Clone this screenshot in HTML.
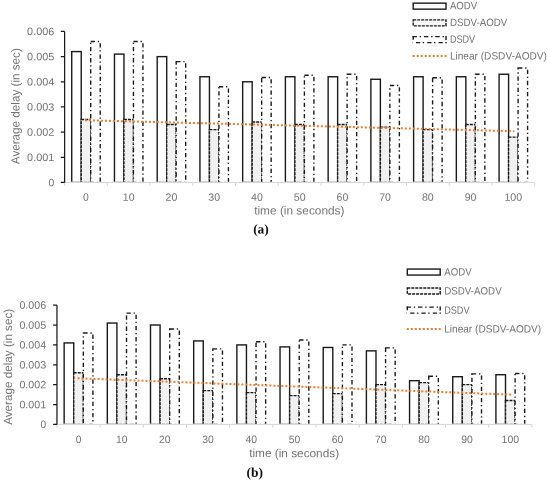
<!DOCTYPE html>
<html lang="en">
<head>
<meta charset="utf-8">
<title>Average delay</title>
<style>
html,body{margin:0;padding:0;background:#fff;}
body{width:550px;height:483px;overflow:hidden;}
svg{display:block;text-rendering:geometricPrecision;}
.t{font-family:"Liberation Sans",sans-serif;font-size:10.6px;fill:#747474;}
.tt{font-family:"Liberation Sans",sans-serif;font-size:11.8px;fill:#747474;}
.cap{font-family:"Liberation Serif",serif;font-weight:bold;font-size:13.5px;fill:#111;}
.a{fill:#fff;stroke:#1a1a1a;stroke-width:1.4;}
.m{fill:#f1f1f1;stroke:#1a1a1a;stroke-width:1.4;stroke-dasharray:3 1;}
.d{fill:#fff;stroke:#1a1a1a;stroke-width:1.4;stroke-dasharray:4.3 2.8 1.3 2.8;}
</style>
</head>
<body>
<svg width="550" height="483" viewBox="0 0 550 483">
<rect x="0" y="0" width="550" height="483" fill="#fff"/>
<g>
<clipPath id="clipa"><rect x="0" y="0" width="550" height="181.7"/></clipPath>
<g clip-path="url(#clipa)">
<rect class="a" x="71.72" y="51.58" width="9.5" height="130.87"/>
<rect class="m" x="81.22" y="119.53" width="9.5" height="62.92"/>
<rect class="d" x="90.72" y="41.52" width="9.5" height="140.93"/>
<rect class="a" x="114.46" y="54.1" width="9.5" height="128.35"/>
<rect class="m" x="123.96" y="119.53" width="9.5" height="62.92"/>
<rect class="d" x="133.45" y="41.52" width="9.5" height="140.93"/>
<rect class="a" x="157.2" y="56.62" width="9.5" height="125.83"/>
<rect class="m" x="166.69" y="124.57" width="9.5" height="57.88"/>
<rect class="d" x="176.19" y="61.65" width="9.5" height="120.8"/>
<rect class="a" x="199.93" y="76.75" width="9.5" height="105.7"/>
<rect class="m" x="209.43" y="129.6" width="9.5" height="52.85"/>
<rect class="d" x="218.93" y="86.82" width="9.5" height="95.63"/>
<rect class="a" x="242.67" y="81.78" width="9.5" height="100.67"/>
<rect class="m" x="252.17" y="122.05" width="9.5" height="60.4"/>
<rect class="d" x="261.66" y="77.5" width="9.5" height="104.95"/>
<rect class="a" x="285.4" y="76.75" width="9.5" height="105.7"/>
<rect class="m" x="294.9" y="124.57" width="9.5" height="57.88"/>
<rect class="d" x="304.4" y="75.24" width="9.5" height="107.21"/>
<rect class="a" x="328.14" y="76.75" width="9.5" height="105.7"/>
<rect class="m" x="337.64" y="124.57" width="9.5" height="57.88"/>
<rect class="d" x="347.13" y="74.23" width="9.5" height="108.22"/>
<rect class="a" x="370.88" y="79.27" width="9.5" height="103.18"/>
<rect class="m" x="380.37" y="127.08" width="9.5" height="55.37"/>
<rect class="d" x="389.87" y="85.56" width="9.5" height="96.89"/>
<rect class="a" x="413.61" y="76.75" width="9.5" height="105.7"/>
<rect class="m" x="423.11" y="129.6" width="9.5" height="52.85"/>
<rect class="d" x="432.61" y="77.76" width="9.5" height="104.69"/>
<rect class="a" x="456.35" y="76.75" width="9.5" height="105.7"/>
<rect class="m" x="465.85" y="124.57" width="9.5" height="57.88"/>
<rect class="d" x="475.34" y="74.23" width="9.5" height="108.22"/>
<rect class="a" x="499.09" y="74.23" width="9.5" height="108.22"/>
<rect class="m" x="508.58" y="137.15" width="9.5" height="45.3"/>
<rect class="d" x="518.08" y="67.94" width="9.5" height="114.51"/>
</g>
<path d="M64.6 182.45H534.7" stroke="#d4d4d4" stroke-width="1" fill="none"/>
<path d="M64.6 182.45v3.2M107.34 182.45v3.2M150.07 182.45v3.2M192.81 182.45v3.2M235.55 182.45v3.2M278.28 182.45v3.2M321.02 182.45v3.2M363.75 182.45v3.2M406.49 182.45v3.2M449.23 182.45v3.2M491.96 182.45v3.2M534.7 182.45v3.2" stroke="#d4d4d4" stroke-width="1" fill="none"/>
<path d="M64.6 31.45V182.45" stroke="#1a1a1a" stroke-width="1.25" fill="none"/>
<path d="M60.8 182.45h3.8M60.8 157.28h3.8M60.8 132.12h3.8M60.8 106.95h3.8M60.8 81.78h3.8M60.8 56.62h3.8M60.8 31.45h3.8" stroke="#1a1a1a" stroke-width="1.25" fill="none"/>
<path d="M84.97 120.22L514.33 131.2" stroke="#ed7d31" stroke-width="2" stroke-dasharray="2 2" fill="none"/>
<text class="t" transform="rotate(0.08 54.3 186.15)" x="54.3" y="186.15" text-anchor="end" textLength="5.8" lengthAdjust="spacingAndGlyphs">0</text>
<text class="t" transform="rotate(0.08 54.3 160.98)" x="54.3" y="160.98" text-anchor="end" textLength="27.2" lengthAdjust="spacingAndGlyphs">0.001</text>
<text class="t" transform="rotate(0.08 54.3 135.82)" x="54.3" y="135.82" text-anchor="end" textLength="27.2" lengthAdjust="spacingAndGlyphs">0.002</text>
<text class="t" transform="rotate(0.08 54.3 110.65)" x="54.3" y="110.65" text-anchor="end" textLength="27.2" lengthAdjust="spacingAndGlyphs">0.003</text>
<text class="t" transform="rotate(0.08 54.3 85.48)" x="54.3" y="85.48" text-anchor="end" textLength="27.2" lengthAdjust="spacingAndGlyphs">0.004</text>
<text class="t" transform="rotate(0.08 54.3 60.32)" x="54.3" y="60.32" text-anchor="end" textLength="27.2" lengthAdjust="spacingAndGlyphs">0.005</text>
<text class="t" transform="rotate(0.08 54.3 35.15)" x="54.3" y="35.15" text-anchor="end" textLength="27.2" lengthAdjust="spacingAndGlyphs">0.006</text>
<text class="t" transform="rotate(0.08 85.97 200.8)" x="85.97" y="200.8" text-anchor="middle" textLength="5.8" lengthAdjust="spacingAndGlyphs">0</text>
<text class="t" transform="rotate(0.08 128.7 200.8)" x="128.7" y="200.8" text-anchor="middle" textLength="11.8" lengthAdjust="spacingAndGlyphs">10</text>
<text class="t" transform="rotate(0.08 171.44 200.8)" x="171.44" y="200.8" text-anchor="middle" textLength="11.8" lengthAdjust="spacingAndGlyphs">20</text>
<text class="t" transform="rotate(0.08 214.18 200.8)" x="214.18" y="200.8" text-anchor="middle" textLength="11.8" lengthAdjust="spacingAndGlyphs">30</text>
<text class="t" transform="rotate(0.08 256.91 200.8)" x="256.91" y="200.8" text-anchor="middle" textLength="11.8" lengthAdjust="spacingAndGlyphs">40</text>
<text class="t" transform="rotate(0.08 299.65 200.8)" x="299.65" y="200.8" text-anchor="middle" textLength="11.8" lengthAdjust="spacingAndGlyphs">50</text>
<text class="t" transform="rotate(0.08 342.39 200.8)" x="342.39" y="200.8" text-anchor="middle" textLength="11.8" lengthAdjust="spacingAndGlyphs">60</text>
<text class="t" transform="rotate(0.08 385.12 200.8)" x="385.12" y="200.8" text-anchor="middle" textLength="11.8" lengthAdjust="spacingAndGlyphs">70</text>
<text class="t" transform="rotate(0.08 427.86 200.8)" x="427.86" y="200.8" text-anchor="middle" textLength="11.8" lengthAdjust="spacingAndGlyphs">80</text>
<text class="t" transform="rotate(0.08 470.6 200.8)" x="470.6" y="200.8" text-anchor="middle" textLength="11.8" lengthAdjust="spacingAndGlyphs">90</text>
<text class="t" transform="rotate(0.08 513.33 200.8)" x="513.33" y="200.8" text-anchor="middle" textLength="17.8" lengthAdjust="spacingAndGlyphs">100</text>
<text class="tt" transform="rotate(0.08 254.2 214.4)" x="254.2" y="214.4" textLength="90.3" lengthAdjust="spacingAndGlyphs">time (in seconds)</text>
<text class="tt" transform="translate(19.5 164.2) rotate(-89.93)" textLength="116" lengthAdjust="spacingAndGlyphs">Average delay (in sec)</text>
<rect class="a" x="413.2" y="3.15" width="32.8" height="6"/>
<text class="t" transform="rotate(0.08 449.9 9.3)" x="449.9" y="9.3" textLength="27.4" lengthAdjust="spacingAndGlyphs">AODV</text>
<rect class="m" style="fill:#f7f7f7" x="413.2" y="19.9" width="32.8" height="6"/>
<text class="t" transform="rotate(0.08 449.9 26)" x="449.9" y="26" textLength="57.5" lengthAdjust="spacingAndGlyphs">DSDV-AODV</text>
<path d="M412.5 36.6H446.7" stroke="#1a1a1a" stroke-width="1.4" fill="none" stroke-dasharray="4.4 2.8 1.4 2.8"/>
<path d="M446 35.9V42.6" stroke="#1a1a1a" stroke-width="1.4" fill="none" stroke-dasharray="4 20"/>
<path d="M446.7 42.6H412.5" stroke="#1a1a1a" stroke-width="1.4" fill="none" stroke-dasharray="1.4 2.5 4.2 3.2"/>
<path d="M413.2 35.9V42.6" stroke="#1a1a1a" stroke-width="1.4" fill="none" stroke-dasharray="3.8 20"/>
<text class="t" transform="rotate(0.08 449.9 42.8)" x="449.9" y="42.8" textLength="25.3" lengthAdjust="spacingAndGlyphs">DSDV</text>
<path d="M412.7 56H446.5" stroke="#ed7d31" stroke-width="2" stroke-dasharray="2 2" fill="none"/>
<text class="t" transform="rotate(0.08 449.9 59.4)" x="449.9" y="59.4" textLength="97" lengthAdjust="spacingAndGlyphs">Linear (DSDV-AODV)</text>
<text class="cap" transform="rotate(0.08 261 233.4)" x="261" y="233.4" text-anchor="middle">(a)</text>
</g>
<g>
<clipPath id="clipb"><rect x="0" y="0" width="550" height="423.65"/></clipPath>
<g clip-path="url(#clipb)">
<rect class="a" x="64.15" y="342.91" width="9.59" height="81.49"/>
<rect class="m" x="73.74" y="372.72" width="9.59" height="51.68"/>
<rect class="d" x="83.34" y="332.97" width="9.59" height="91.43"/>
<rect class="a" x="107.32" y="323.04" width="9.59" height="101.36"/>
<rect class="m" x="116.92" y="374.71" width="9.59" height="49.69"/>
<rect class="d" x="126.51" y="313.1" width="9.59" height="111.3"/>
<rect class="a" x="150.5" y="325.02" width="9.59" height="99.38"/>
<rect class="m" x="160.1" y="378.69" width="9.59" height="45.71"/>
<rect class="d" x="169.69" y="329" width="9.59" height="95.4"/>
<rect class="a" x="193.68" y="340.92" width="9.59" height="83.48"/>
<rect class="m" x="203.27" y="390.61" width="9.59" height="33.79"/>
<rect class="d" x="212.87" y="348.88" width="9.59" height="75.52"/>
<rect class="a" x="236.86" y="344.9" width="9.59" height="79.5"/>
<rect class="m" x="246.45" y="392.6" width="9.59" height="31.8"/>
<rect class="d" x="256.05" y="341.72" width="9.59" height="82.68"/>
<rect class="a" x="280.03" y="346.89" width="9.59" height="77.51"/>
<rect class="m" x="289.63" y="395.58" width="9.59" height="28.82"/>
<rect class="d" x="299.22" y="339.93" width="9.59" height="84.47"/>
<rect class="a" x="323.21" y="347.48" width="9.59" height="76.92"/>
<rect class="m" x="332.8" y="393.59" width="9.59" height="30.81"/>
<rect class="d" x="342.4" y="344.9" width="9.59" height="79.5"/>
<rect class="a" x="366.39" y="350.86" width="9.59" height="73.54"/>
<rect class="m" x="375.98" y="384.65" width="9.59" height="39.75"/>
<rect class="d" x="385.58" y="347.88" width="9.59" height="76.52"/>
<rect class="a" x="409.56" y="380.67" width="9.59" height="43.73"/>
<rect class="m" x="419.16" y="382.66" width="9.59" height="41.74"/>
<rect class="d" x="428.75" y="376.3" width="9.59" height="48.1"/>
<rect class="a" x="452.74" y="376.7" width="9.59" height="47.7"/>
<rect class="m" x="462.34" y="384.65" width="9.59" height="39.75"/>
<rect class="d" x="471.93" y="373.92" width="9.59" height="50.48"/>
<rect class="a" x="495.92" y="374.71" width="9.59" height="49.69"/>
<rect class="m" x="505.51" y="400.55" width="9.59" height="23.85"/>
<rect class="d" x="515.11" y="373.52" width="9.59" height="50.88"/>
</g>
<path d="M56.95 424.4H531.9" stroke="#d4d4d4" stroke-width="1" fill="none"/>
<path d="M56.95 424.4v3.2M100.13 424.4v3.2M143.3 424.4v3.2M186.48 424.4v3.2M229.66 424.4v3.2M272.84 424.4v3.2M316.01 424.4v3.2M359.19 424.4v3.2M402.37 424.4v3.2M445.55 424.4v3.2M488.72 424.4v3.2M531.9 424.4v3.2" stroke="#d4d4d4" stroke-width="1" fill="none"/>
<path d="M56.95 305.15V424.4" stroke="#1a1a1a" stroke-width="1.25" fill="none"/>
<path d="M53.15 424.4h3.8M53.15 404.52h3.8M53.15 384.65h3.8M53.15 364.77h3.8M53.15 344.9h3.8M53.15 325.02h3.8M53.15 305.15h3.8" stroke="#1a1a1a" stroke-width="1.25" fill="none"/>
<path d="M77.54 378.28L511.31 394.63" stroke="#ed7d31" stroke-width="2" stroke-dasharray="2 2" fill="none"/>
<text class="t" transform="rotate(0.08 46.2 428.1)" x="46.2" y="428.1" text-anchor="end" textLength="5.7" lengthAdjust="spacingAndGlyphs">0</text>
<text class="t" transform="rotate(0.08 46.2 408.22)" x="46.2" y="408.22" text-anchor="end" textLength="26.8" lengthAdjust="spacingAndGlyphs">0.001</text>
<text class="t" transform="rotate(0.08 46.2 388.35)" x="46.2" y="388.35" text-anchor="end" textLength="26.8" lengthAdjust="spacingAndGlyphs">0.002</text>
<text class="t" transform="rotate(0.08 46.2 368.47)" x="46.2" y="368.47" text-anchor="end" textLength="26.8" lengthAdjust="spacingAndGlyphs">0.003</text>
<text class="t" transform="rotate(0.08 46.2 348.6)" x="46.2" y="348.6" text-anchor="end" textLength="26.8" lengthAdjust="spacingAndGlyphs">0.004</text>
<text class="t" transform="rotate(0.08 46.2 328.72)" x="46.2" y="328.72" text-anchor="end" textLength="26.8" lengthAdjust="spacingAndGlyphs">0.005</text>
<text class="t" transform="rotate(0.08 46.2 308.85)" x="46.2" y="308.85" text-anchor="end" textLength="26.8" lengthAdjust="spacingAndGlyphs">0.006</text>
<text class="t" transform="rotate(0.08 78.54 443.1)" x="78.54" y="443.1" text-anchor="middle" textLength="5.7" lengthAdjust="spacingAndGlyphs">0</text>
<text class="t" transform="rotate(0.08 121.72 443.1)" x="121.72" y="443.1" text-anchor="middle" textLength="11.6" lengthAdjust="spacingAndGlyphs">10</text>
<text class="t" transform="rotate(0.08 164.89 443.1)" x="164.89" y="443.1" text-anchor="middle" textLength="11.6" lengthAdjust="spacingAndGlyphs">20</text>
<text class="t" transform="rotate(0.08 208.07 443.1)" x="208.07" y="443.1" text-anchor="middle" textLength="11.6" lengthAdjust="spacingAndGlyphs">30</text>
<text class="t" transform="rotate(0.08 251.25 443.1)" x="251.25" y="443.1" text-anchor="middle" textLength="11.6" lengthAdjust="spacingAndGlyphs">40</text>
<text class="t" transform="rotate(0.08 294.43 443.1)" x="294.43" y="443.1" text-anchor="middle" textLength="11.6" lengthAdjust="spacingAndGlyphs">50</text>
<text class="t" transform="rotate(0.08 337.6 443.1)" x="337.6" y="443.1" text-anchor="middle" textLength="11.6" lengthAdjust="spacingAndGlyphs">60</text>
<text class="t" transform="rotate(0.08 380.78 443.1)" x="380.78" y="443.1" text-anchor="middle" textLength="11.6" lengthAdjust="spacingAndGlyphs">70</text>
<text class="t" transform="rotate(0.08 423.96 443.1)" x="423.96" y="443.1" text-anchor="middle" textLength="11.6" lengthAdjust="spacingAndGlyphs">80</text>
<text class="t" transform="rotate(0.08 467.13 443.1)" x="467.13" y="443.1" text-anchor="middle" textLength="11.6" lengthAdjust="spacingAndGlyphs">90</text>
<text class="t" transform="rotate(0.08 510.31 443.1)" x="510.31" y="443.1" text-anchor="middle" textLength="17.5" lengthAdjust="spacingAndGlyphs">100</text>
<text class="tt" transform="rotate(0.08 249.2 457.1)" x="249.2" y="457.1" textLength="89.9" lengthAdjust="spacingAndGlyphs">time (in seconds)</text>
<text class="tt" transform="translate(11.9 424.8) rotate(-89.93)" textLength="116" lengthAdjust="spacingAndGlyphs">Average delay (in sec)</text>
<rect class="a" x="407.3" y="269.05" width="32.9" height="6"/>
<text class="t" transform="rotate(0.08 444.2 275.6)" x="444.2" y="275.6" textLength="27.4" lengthAdjust="spacingAndGlyphs">AODV</text>
<rect class="m" style="fill:#f7f7f7" x="407.3" y="287.95" width="32.9" height="6"/>
<text class="t" transform="rotate(0.08 444.2 294.5)" x="444.2" y="294.5" textLength="57.5" lengthAdjust="spacingAndGlyphs">DSDV-AODV</text>
<path d="M406.6 307.15H440.9" stroke="#1a1a1a" stroke-width="1.4" fill="none" stroke-dasharray="4.4 2.8 1.4 2.8"/>
<path d="M440.2 306.45V313.15" stroke="#1a1a1a" stroke-width="1.4" fill="none" stroke-dasharray="4 20"/>
<path d="M440.9 313.15H406.6" stroke="#1a1a1a" stroke-width="1.4" fill="none" stroke-dasharray="1.4 2.5 4.2 3.2"/>
<path d="M407.3 306.45V313.15" stroke="#1a1a1a" stroke-width="1.4" fill="none" stroke-dasharray="3.8 20"/>
<text class="t" transform="rotate(0.08 444.2 313.7)" x="444.2" y="313.7" textLength="25.3" lengthAdjust="spacingAndGlyphs">DSDV</text>
<path d="M406.8 328.9H440.7" stroke="#ed7d31" stroke-width="2" stroke-dasharray="2 2" fill="none"/>
<text class="t" transform="rotate(0.08 444.2 332.4)" x="444.2" y="332.4" textLength="97" lengthAdjust="spacingAndGlyphs">Linear (DSDV-AODV)</text>
<text class="cap" transform="rotate(0.08 254.7 476.7)" x="254.7" y="476.7" text-anchor="middle">(b)</text>
</g>
</svg>
</body>
</html>
